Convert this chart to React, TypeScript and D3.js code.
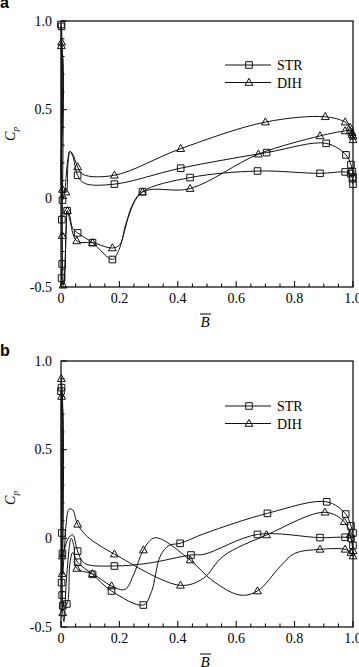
import React from 'react';
import * as d3 from 'd3';

// [x (B-bar), Cp, marker shown (1) or spline knot only (0)]
type Pt = [number, number, number];

const panelLabels = ['a', 'b'];
const seriesNames = ['STR', 'DIH'];
const xTickValues = [0, 0.2, 0.4, 0.6, 0.8, 1.0];
const xTickLabels = ['0', '0.2', '0.4', '0.6', '0.8', '1.0'];
const yTickValues = [-0.5, 0, 0.5, 1.0];
const yTickLabels = ['-0.5', '0', '0.5', '1.0'];

// ---------- panel a ----------
const aSTRupper: Pt[] = [
  [0.0, 0.98, 1], [0.001, 0.9, 0], [0.001, 0.4, 0], [0.002, 0.05, 0], [0.005, -0.01, 1], [0.012, 0.03, 0],
  [0.022, 0.2, 0], [0.03, 0.265, 0], [0.04, 0.24, 0], [0.057, 0.13, 1], [0.08, 0.085, 0],
  [0.183, 0.08, 1], [0.41, 0.17, 1], [0.704, 0.258, 1], [0.908, 0.31, 1], [0.976, 0.245, 1],
  [0.993, 0.19, 1], [0.998, 0.15, 1], [1.0, 0.12, 1],
];
const aSTRlower: Pt[] = [
  [0.002, 0.97, 1], [0.003, 0.9, 0], [0.003, 0.3, 0], [0.003, -0.12, 1], [0.004, -0.37, 1], [0.002, -0.45, 1],
  [0.008, -0.49, 0], [0.013, -0.4, 0], [0.018, -0.15, 0], [0.021, -0.07, 1], [0.03, -0.1, 0],
  [0.04, -0.17, 0], [0.057, -0.195, 1], [0.108, -0.25, 1], [0.176, -0.345, 1], [0.196, -0.3, 0],
  [0.22, -0.17, 0], [0.242, -0.045, 0], [0.279, 0.038, 1], [0.442, 0.117, 1], [0.673, 0.154, 1],
  [0.887, 0.141, 1], [0.973, 0.149, 1], [0.992, 0.14, 1], [0.998, 0.11, 1], [1.0, 0.08, 1],
];
const aDIHupper: Pt[] = [
  [0.002, 0.88, 1], [0.005, 0.8, 0], [0.005, 0.45, 0], [0.005, 0.05, 1], [0.017, 0.035, 1], [0.024, 0.2, 0],
  [0.031, 0.265, 0], [0.04, 0.25, 0], [0.057, 0.177, 1], [0.075, 0.135, 0], [0.183, 0.13, 1],
  [0.41, 0.28, 1], [0.7, 0.43, 1], [0.905, 0.46, 1], [0.973, 0.43, 1], [0.99, 0.4, 1],
  [0.997, 0.37, 1], [1.0, 0.35, 1],
];
const aDIHlower: Pt[] = [
  [0.001, 0.86, 1], [0.007, 0.78, 0], [0.007, 0.3, 0], [0.004, -0.21, 1], [0.006, -0.42, 0], [0.007, -0.49, 1],
  [0.012, -0.45, 0], [0.017, -0.2, 0], [0.022, -0.07, 1], [0.03, -0.12, 0], [0.054, -0.24, 1],
  [0.108, -0.25, 1], [0.176, -0.28, 1], [0.202, -0.26, 0], [0.225, -0.13, 0], [0.279, 0.035, 1],
  [0.442, 0.055, 1], [0.676, 0.249, 1], [0.887, 0.352, 1], [0.973, 0.38, 1], [0.99, 0.38, 1],
  [0.997, 0.36, 1], [1.0, 0.33, 1],
];

// ---------- panel b ----------
const bSTRupper: Pt[] = [
  [0.002, 0.85, 1], [0.001, 0.75, 0], [0.001, 0.4, 0], [0.003, 0.03, 1], [0.005, -0.085, 1], [0.012, -0.06, 0],
  [0.025, 0.0, 0], [0.04, 0.02, 0], [0.057, -0.072, 1], [0.08, -0.14, 0], [0.183, -0.156, 1],
  [0.3, -0.14, 0], [0.445, -0.094, 1], [0.49, -0.09, 0], [0.673, 0.022, 1], [0.887, 0.004, 1],
  [0.973, 0.006, 1], [0.993, 0.0, 1], [1.0, -0.04, 1],
];
const bSTRlower: Pt[] = [
  [0.0, 0.83, 1], [0.003, 0.75, 0], [0.003, 0.2, 0], [0.002, -0.25, 1], [0.004, -0.32, 1], [0.006, -0.38, 1], [0.02, -0.37, 1],
  [0.03, -0.15, 0], [0.04, -0.08, 0], [0.057, -0.135, 1], [0.108, -0.203, 1], [0.173, -0.297, 1],
  [0.282, -0.376, 1], [0.31, -0.3, 0], [0.34, -0.1, 0], [0.37, -0.04, 0], [0.408, -0.028, 1],
  [0.493, 0.028, 0], [0.707, 0.141, 1], [0.91, 0.206, 1], [0.975, 0.137, 1], [0.993, 0.07, 1],
  [1.0, 0.03, 1],
];
const bDIHupper: Pt[] = [
  [0.001, 0.9, 1], [0.005, 0.8, 0], [0.005, 0.3, 0], [0.004, -0.1, 1], [0.006, -0.2, 0], [0.012, -0.05, 0],
  [0.022, 0.14, 0], [0.028, 0.165, 0], [0.04, 0.16, 0], [0.057, 0.079, 1], [0.09, 0.01, 0],
  [0.183, -0.089, 1], [0.409, -0.265, 1], [0.487, -0.226, 0], [0.556, -0.1, 0], [0.704, 0.019, 1],
  [0.904, 0.147, 1], [0.97, 0.094, 1], [0.99, 0.02, 1], [1.0, -0.07, 1],
];
const bDIHlower: Pt[] = [
  [0.002, 0.8, 1], [0.007, 0.7, 0], [0.007, 0.0, 0], [0.004, -0.2, 1], [0.006, -0.42, 1], [0.01, -0.47, 0],
  [0.02, -0.2, 0], [0.035, 0.0, 0], [0.045, -0.05, 0], [0.054, -0.17, 1], [0.108, -0.2, 1],
  [0.173, -0.269, 1], [0.219, -0.288, 0], [0.25, -0.2, 0], [0.282, -0.066, 1], [0.322, 0.003, 0],
  [0.442, -0.122, 1], [0.52, -0.24, 0], [0.613, -0.32, 0], [0.673, -0.297, 1], [0.75, -0.16, 0],
  [0.8, -0.085, 0], [0.887, -0.062, 1], [0.973, -0.062, 1], [0.993, -0.08, 1], [1.0, -0.1, 1],
];

const panels = [
  {
    label: panelLabels[0], top: 21, bottom: 287, legendY: 65, cpY: 134,
    curves: [
      { s: 0, pts: aSTRupper }, { s: 0, pts: aSTRlower },
      { s: 1, pts: aDIHupper }, { s: 1, pts: aDIHlower },
    ],
  },
  {
    label: panelLabels[1], top: 361, bottom: 627, legendY: 406, cpY: 498,
    curves: [
      { s: 0, pts: bSTRupper }, { s: 0, pts: bSTRlower },
      { s: 1, pts: bDIHupper }, { s: 1, pts: bDIHlower },
    ],
  },
];

const FONT = '"Liberation Serif", "Times New Roman", serif';

function marker(kind: number, cx: number, cy: number): string {
  if (kind === 0) {
    const h = 3.3;
    return `M${cx - h},${cy - h}h${2 * h}v${2 * h}h${-2 * h}Z`;
  }
  return `M${cx},${cy - 4.2}L${cx + 3.9},${cy + 2.8}L${cx - 3.9},${cy + 2.8}Z`;
}

export default function App() {
  const W = 359;
  const H = 667;
  const left = 61;
  const right = 353;
  const x = d3.scaleLinear().domain([0, 1]).range([left, right]);
  const xMinor = d3.range(0, 1.0001, 0.05);
  const yMinor = d3.range(-0.5, 1.0001, 0.1);

  return (
    <svg width={W} height={H} style={{ position: 'absolute', left: 0, top: 0, background: '#fff' }}>
      <rect x={0} y={0} width={W} height={H} fill="#fff" />
      {panels.map((p, pi) => {
        const y = d3.scaleLinear().domain([-0.5, 1]).range([p.bottom, p.top]);
        const line = d3
          .line<Pt>()
          .x((d) => x(d[0]))
          .y((d) => y(d[1]))
          .curve(d3.curveCatmullRom.alpha(0.5));
        return (
          <g key={pi}>
            {/* panel letter */}
            <text x={0} y={pi === 0 ? 8 : 356} fontFamily='"Liberation Sans", Arial, sans-serif'
              fontWeight="bold" fontSize={16} fill="#000">{p.label}</text>
            {/* frame */}
            <rect x={left} y={p.top} width={right - left} height={p.bottom - p.top}
              fill="none" stroke="#000" strokeWidth={1.2} />
            {/* x ticks */}
            {xMinor.map((v, i) => {
              const major = i % 4 === 0;
              return (
                <line key={'xm' + i} x1={x(v)} x2={x(v)} y1={p.bottom} y2={p.bottom - (major ? 6 : 3.5)}
                  stroke="#000" strokeWidth={1} />
              );
            })}
            {xTickValues.map((v, i) => (
              <text key={'xl' + i} x={x(v)} y={p.bottom + 16} textAnchor="middle"
                fontFamily={FONT} fontSize={14} fill="#000">{xTickLabels[i]}</text>
            ))}
            {/* y ticks */}
            {yMinor.map((v, i) => {
              const major = i % 5 === 0;
              return (
                <line key={'ym' + i} x1={left} x2={left + (major ? 6 : 3.5)} y1={y(v)} y2={y(v)}
                  stroke="#000" strokeWidth={1} />
              );
            })}
            {yTickValues.map((v, i) => (
              <text key={'yl' + i} x={52} y={y(v) + 4.5} textAnchor="end"
                fontFamily={FONT} fontSize={14} fill="#000">{yTickLabels[i]}</text>
            ))}
            {/* axis titles */}
            <text transform={`translate(15,${p.cpY}) rotate(-90)`} textAnchor="middle"
              fontFamily={FONT} fontSize={14} fill="#000">
              <tspan fontStyle="italic">C</tspan>
              <tspan fontStyle="italic" fontSize={9} dy={3}>p</tspan>
            </text>
            <text x={205} y={p.bottom + 40} textAnchor="middle" fontFamily={FONT} fontSize={15}
              fontStyle="italic" fill="#000">B</text>
            <line x1={200} x2={211} y1={p.bottom + 27} y2={p.bottom + 27} stroke="#000" strokeWidth={1} />
            {/* curves */}
            {p.curves.map((c, ci) => (
              <path key={'c' + ci} d={line(c.pts) || ''} fill="none" stroke="#111" strokeWidth={1} />
            ))}
            {p.curves.map((c, ci) =>
              c.pts.filter((d) => d[2] === 1).map((d, k) => (
                <path key={'m' + ci + '-' + k} d={marker(c.s, x(d[0]), y(d[1]))}
                  fill="none" stroke="#111" strokeWidth={1} />
              ))
            )}
            {/* legend */}
            {seriesNames.map((name, si) => {
              const ly = p.legendY + si * 17.5;
              return (
                <g key={'lg' + si}>
                  <line x1={225} x2={271} y1={ly} y2={ly} stroke="#111" strokeWidth={1} />
                  <path d={marker(si, 249, ly)} fill="none" stroke="#111" strokeWidth={1} />
                  <text x={277} y={ly + 5} fontFamily={FONT} fontSize={14} fill="#000">{name}</text>
                </g>
              );
            })}
          </g>
        );
      })}
    </svg>
  );
}
